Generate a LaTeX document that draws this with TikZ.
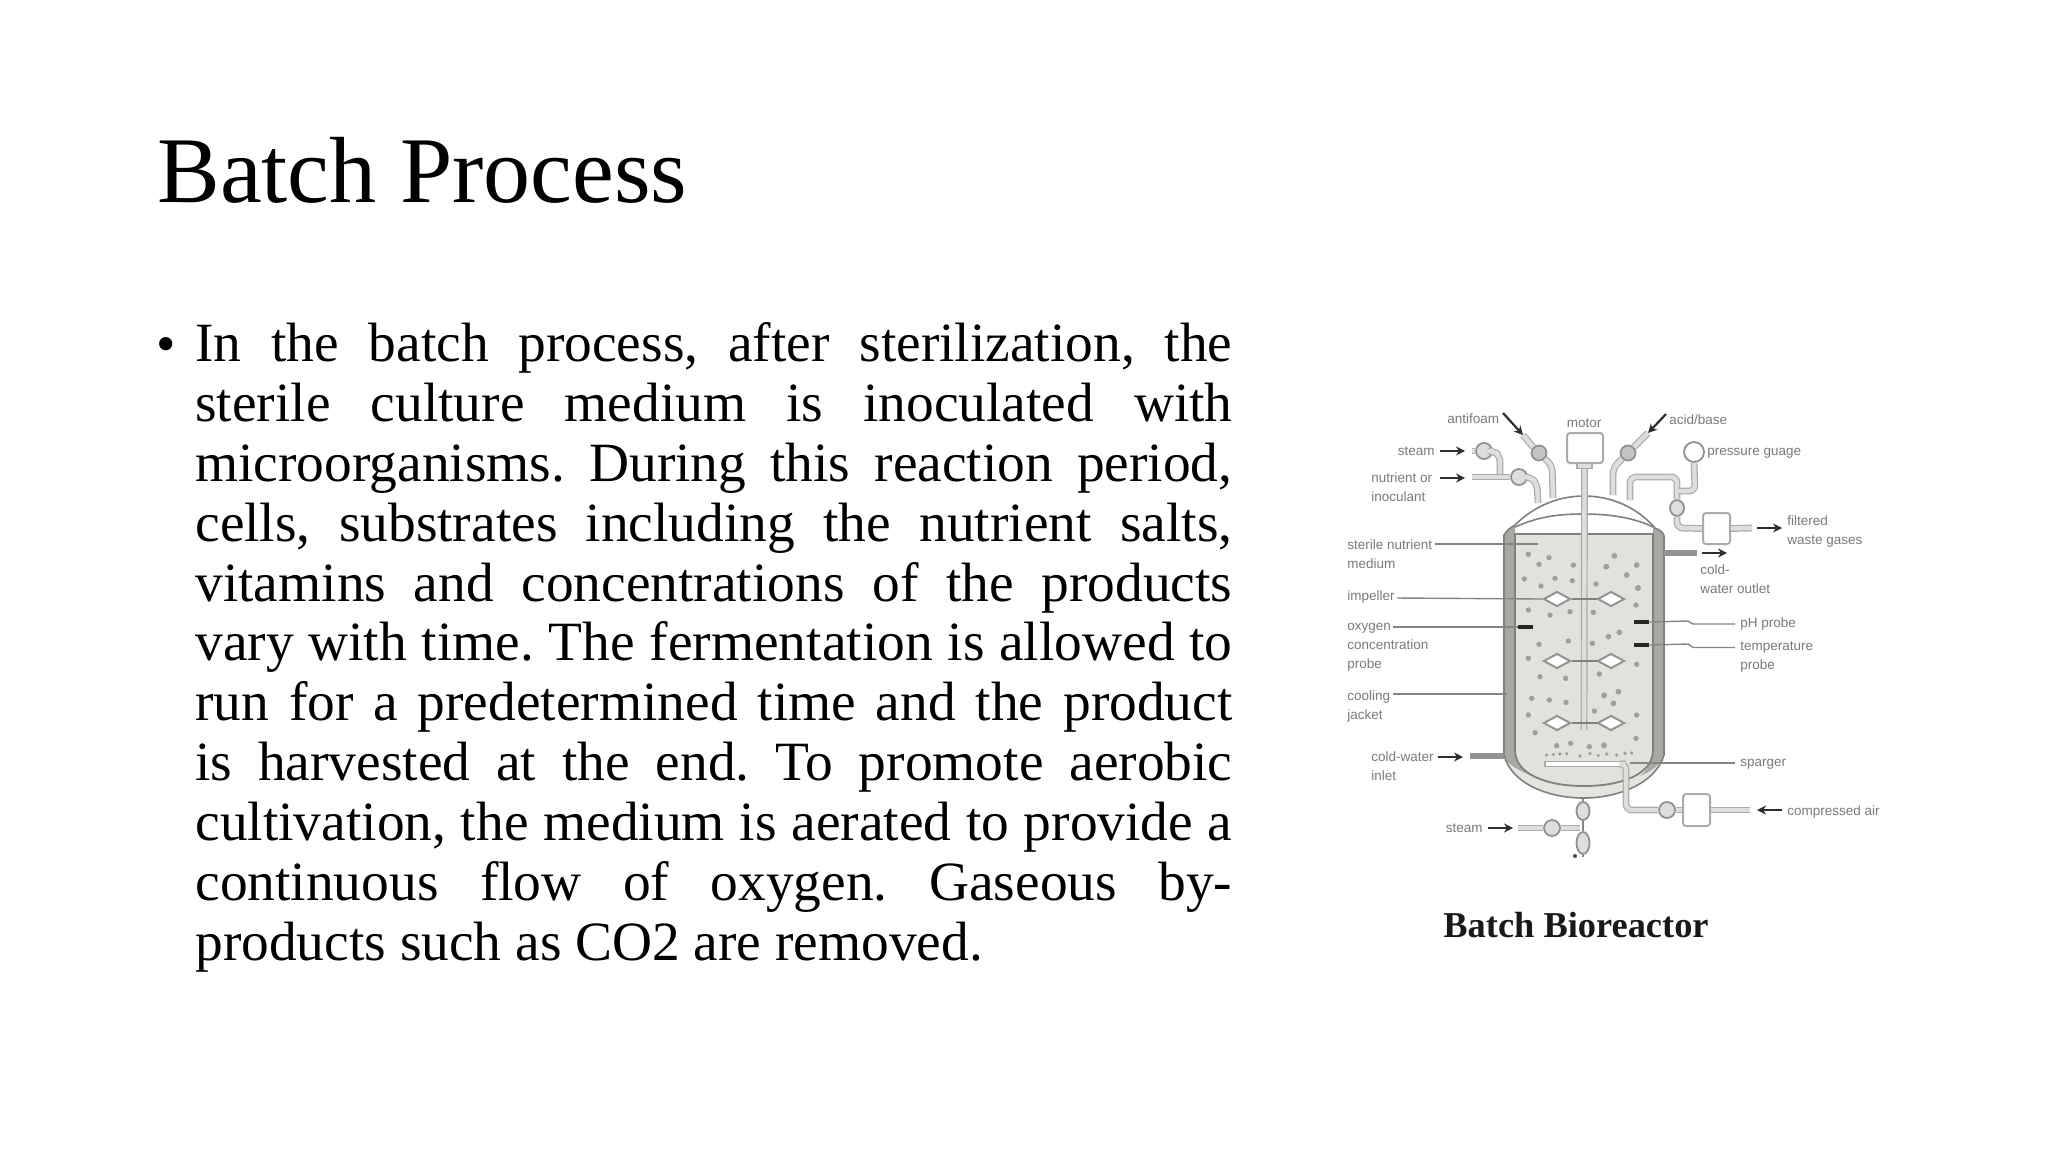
\documentclass[tikz,border=0pt]{standalone}
\usepackage{fontspec}
\setmainfont{Liberation Serif}
\newfontfamily\labelfont{Liberation Sans}
\usetikzlibrary{arrows.meta,calc,shapes.geometric}
\definecolor{pipeedge}{HTML}{ABABAB}
\definecolor{pipefill}{HTML}{DEDEDC}
\definecolor{labelgrey}{HTML}{7A7A7A}
\definecolor{leadergrey}{HTML}{858585}
\definecolor{jacketgrey}{HTML}{A8A8A3}
\definecolor{liquid}{HTML}{E2E2DC}
\definecolor{vesselline}{HTML}{808080}
\definecolor{arrowdark}{HTML}{2E2E2E}
\newcommand{\jl}[1]{\makebox[518.5pt][s]{#1}}
\frenchspacing
\tikzset{
  x=0.5pt,y=-0.5pt,
  pipe/.style={draw=pipeedge,line width=.6pt,double=pipefill,double distance=2.2pt,rounded corners=3pt},
  valve/.style={circle,draw=pipeedge!85!black,fill=pipefill,line width=.9pt,inner sep=0pt,minimum size=8pt},
  tallvalve/.style={ellipse,draw=pipeedge!85!black,fill=pipefill,line width=.9pt,inner sep=0pt,minimum width=6.5pt,minimum height=9pt},
  unitbox/.style={rectangle,rounded corners=1.5pt,draw=pipeedge,fill=white,line width=1pt,inner sep=0pt},
  tag/.style={anchor=west,inner sep=0pt,align=left,text=labelgrey,font=\labelfont\fontsize{6.75}{9.5}\selectfont},
  leader/.style={draw=leadergrey,line width=.7pt},
  flow/.style={draw=arrowdark,line width=1.1pt,-{Stealth[length=4.5pt,width=4.5pt]}},
  probe/.style={rectangle,fill=black!85,inner sep=0pt,minimum width=7.5pt,minimum height=2pt},
  thickbar/.style={draw=vesselline!85!white,line width=2.8pt},
  impel/.style={diamond,aspect=1.8,draw=vesselline!85!white,fill=white,line width=1pt,inner sep=0pt,minimum width=13.5pt,minimum height=7.5pt},
  bubble/.style={fill=gray!75},
}
\begin{document}
\begin{tikzpicture}
\useasboundingbox (0,0) rectangle (2048,1152);
\fill[white] (0,0) rectangle (2048,1152);
% slide text
\node[anchor=base west,inner sep=0pt,font=\fontsize{47}{50}\selectfont] (title) at (157,202) {Batch Process};
\node[anchor=base west,inner sep=0pt,font=\fontsize{27.7}{30}\selectfont] (bullet) at (156,362) {•};
\node[anchor=north west,inner sep=0pt,align=left,font=\fontsize{27.7}{29.95}\selectfont] (body) at (195,322) {%
\jl{In the batch process, after sterilization, the}\\
\jl{sterile culture medium is inoculated with}\\
\jl{microorganisms. During this reaction period,}\\
\jl{cells, substrates including the nutrient salts,}\\
\jl{vitamins and concentrations of the products}\\
\jl{vary with time. The fermentation is allowed to}\\
\jl{run for a predetermined time and the product}\\
\jl{is harvested at the end. To promote aerobic}\\
\jl{cultivation, the medium is aerated to provide a}\\
\jl{continuous flow of oxygen. Gaseous by-}\\
products such as CO2 are removed.};
\node[anchor=base west,inner sep=0pt,font=\bfseries\fontsize{18.2}{20}\selectfont,text=black!90] (caption) at (1443,937) {Batch Bioreactor};

% vessel
\path[fill=white] (1504,535) .. controls (1507,530) and (1510,528) .. (1515,525) .. controls (1535,505) and (1560,496) .. (1584,496) .. controls (1608,496) and (1635,505) .. (1655,528) .. controls (1660,530) and (1663,532) .. (1664,536) -- (1664,760) .. controls (1650,785) and (1615,798) .. (1584,798) .. controls (1550,798) and (1515,785) .. (1504,760) -- cycle;
\fill[liquid!90!white] (1504,760) .. controls (1515,785) and (1550,798) .. (1584,798) .. controls (1615,798) and (1650,785) .. (1664,760) -- cycle;
\fill[jacketgrey] (1504,535) .. controls (1507,530) and (1510,528) .. (1515,525) -- (1515,745) .. controls (1516,760) and (1525,772) .. (1532,776) .. controls (1518,770) and (1508,765) .. (1504,756) -- cycle;
\fill[jacketgrey] (1655,528) .. controls (1660,530) and (1663,532) .. (1664,536) -- (1664,756) .. controls (1660,765) and (1650,772) .. (1640,776) .. controls (1648,770) and (1653,760) .. (1653,745) -- (1653,528) -- cycle;
\draw[vesselline,fill=liquid,line width=.9pt] (1515,534) -- (1653,534) -- (1653,750) .. controls (1653,775) and (1620,786) .. (1584,786) .. controls (1548,786) and (1515,775) .. (1515,750) -- cycle;
\draw[vesselline,line width=.8pt] (1504,535) .. controls (1507,530) and (1510,528) .. (1515,525) .. controls (1535,505) and (1560,496) .. (1584,496) .. controls (1608,496) and (1635,505) .. (1655,528) .. controls (1660,530) and (1663,532) .. (1664,536) -- (1664,755) .. controls (1655,785) and (1615,798) .. (1584,798) .. controls (1550,798) and (1512,785) .. (1504,755) -- cycle;
\draw[vesselline,line width=.8pt] (1515,527) .. controls (1540,516) and (1560,514) .. (1584,514) .. controls (1610,514) and (1635,518) .. (1653,527);

% bubbles
\foreach \a/\b in {565/493,597/523,627/503,700/525,823/498,798/530,890/525,553/567,603/588,645/565,697/572,768/582,860/555,893/595,888/645,565/660,630/675,690/665,760/667}
  \fill[bubble] ({1340+\a/3},{390+\b/3}) circle (2.7);
\foreach \a/\b in {805/110,838/97,597/133,685/123,757/130,565/175,890/193,600/230,677/235,778/222,575/295,628/300,678/307,793/285,835/275,820/310,763/333,565/345,890/345,585/398,888/415,650/437,692/430,748/440,792/435}
  \fill[bubble] ({1340+\a/3},{600+\b/3}) circle (2.7);
\foreach \a/\b in {43/497,20/530,80/555,110/525,115/593}
  \fill[bubble] ({1600+\a/3},{390+\b/3}) circle (2.7);
\foreach \a/\b in {25/110,58/97,12/287,55/275,40/310,12/437}
  \fill[bubble] ({1600+\a/3},{600+\b/3}) circle (2.7);
\foreach \a in {620,640,660,680,720,750,775,800,830,855,875}
  \fill[bubble] ({1340+\a/3},{753+mod(\a,7)/2}) circle (1.8);

% motor and shaft
\node[unitbox,minimum width=18pt,minimum height=15pt] (motor) at (1585,448) {};
\node[rectangle,draw=pipeedge,fill=pipefill,inner sep=0pt,minimum width=7.5pt,minimum height=2.5pt,line width=.6pt] (coupling) at (1584.5,466) {};
\coordinate (shaftend) at (1584,730);
\draw[pipe,rounded corners=0pt] (coupling.south) -- (shaftend);

% impellers
\foreach \n/\y in {top/599,mid/661,low/723}{
  \node[impel] (\n L) at (1557,\y) {};
  \node[impel] (\n R) at (1611,\y) {};
  \draw[draw=vesselline,line width=1.4pt] (\n L.east) -- (\n R.west);
}

% sparger
\node[rectangle,draw=pipeedge,fill=white,inner sep=0pt,minimum width=40pt,minimum height=2.5pt,line width=.7pt] (sparger) at (1585,764) {};

% valves and units, top
\node[valve] (vsteam) at (1484,451) {};
\node[valve] (vnutrient) at (1519,477) {};
\node[valve,minimum size=7.5pt,fill=pipeedge!70!white] (vantifoam) at (1539,453) {};
\node[valve,minimum size=7.5pt,fill=pipeedge!70!white] (vacid) at (1628,453) {};
\node[valve,minimum size=10pt,fill=white] (gauge) at (1694,452) {};
\node[tallvalve,minimum width=7pt,minimum height=8pt] (vwaste) at (1677,508) {};
\node[unitbox,minimum width=13.5pt,minimum height=15.5pt] (filterout) at (1716.5,528.5) {};
% valves and units, bottom
\node[valve] (vair) at (1667,810) {};
\node[unitbox,minimum width=13.5pt,minimum height=16pt] (filterin) at (1696.5,810) {};
\node[tallvalve] (vdrain) at (1583,811) {};
\node[valve] (vbase) at (1552,828) {};
\node[tallvalve,minimum height=11pt] (vout) at (1583,843) {};

% labels
\node[tag] (lantifoam) at (1447,419) {antifoam};
\node[tag,anchor=center] (lmotor) at (1584,423) {motor};
\node[tag] (lacid) at (1669,420) {acid/base};
\node[tag] (lgauge) at (1707,453) {pressure guage};
\node[tag,anchor=east] (lsteam) at (1435,451) {steam};
\node[tag] (lnutrient) at (1371,487) {nutrient or\\inoculant};
\node[tag] (lfiltered) at (1787,531) {filtered\\waste gases};
\node[tag] (lsterile) at (1347,554) {sterile nutrient\\medium};
\node[tag] (loutlet) at (1700,579) {cold-\\water outlet};
\node[tag] (limpeller) at (1347,597) {impeller};
\node[tag] (lph) at (1740,624) {pH probe};
\node[tag] (ltemp) at (1740,657) {temperature\\probe};
\node[tag] (loxygen) at (1347,647) {oxygen\\concentration\\probe};
\node[tag] (lcooling) at (1347,706) {cooling\\jacket};
\node[tag] (linlet) at (1371,766) {cold-water\\inlet};
\node[tag] (lsparger) at (1740,764) {sparger};
\node[tag] (lair) at (1787,812) {compressed air};
\node[tag,anchor=east] (lbase) at (1483,828) {steam};

% probes
\node[probe] (poxygen) at (1525.5,627) {};
\node[probe] (pph) at (1641.5,622) {};
\node[probe] (ptemp) at (1641.5,645) {};

% free ends
\coordinate (domeA) at (1538,503); \coordinate (domeB) at (1553,498);
\coordinate (domeC) at (1613,495); \coordinate (domeD) at (1630,500);
\coordinate (steamJoin) at (1500,477);

% pipes, top
\draw[pipe] (vsteam.east) -- (1494,451) -- (1500,456) -- (steamJoin);
\coordinate (nutStart) at (1472,477);
\draw[pipe] (nutStart) -- (vnutrient.west);
\coordinate (stStart) at (1472,451);
\draw[pipe] (stStart) -- (vsteam.west);
\draw[pipe] (vnutrient.east) -- (1531,477) -- (1537,484) -- (domeA);
\coordinate (afStart) at (1523,435);
\draw[pipe] (afStart) -- (vantifoam.north west);
\draw[pipe] (vantifoam.south east) -- (1552,465) -- (domeB);
\coordinate (abStart) at (1648,433);
\draw[pipe] (abStart) -- (vacid.north east);
\draw[pipe] (vacid.south west) -- (1613,468) -- (domeC);
\draw[pipe] (domeD) -- (1630,477) -- (1677,477) -- (vwaste.north);
\draw[pipe] (gauge.south) -- (1695,491) -- (1678,491);
\draw[pipe] (vwaste.south) -- (1677,528) -- (filterout.west);
\coordinate (wasteEnd) at (1752,528);
\draw[pipe,rounded corners=0pt] (filterout.east) -- (wasteEnd);
% pipes, bottom
\draw[pipe] (sparger.east) -- (1626,764) -- (1626,810) -- (vair.west);
\draw[pipe] (vair.east) -- (filterin.west);
\coordinate (airStart) at (1750,810);
\draw[pipe,rounded corners=0pt] (filterin.east) -- (airStart);
\coordinate (vesselBottom) at (1583,798);
\draw[leader] (vesselBottom) -- (vdrain.north);
\draw[leader] (vdrain.south) -- (vout.north);
\coordinate (baseStart) at (1518,828); \coordinate (baseJoin) at (1580,828);
\draw[pipe,rounded corners=0pt] (baseStart) -- (vbase.west);
\draw[pipe,rounded corners=0pt] (vbase.east) -- (baseJoin);
\coordinate (outEnd) at (1583,857);
\draw[leader] (vout.south) -- (outEnd);
\coordinate (dripdot) at (1575,856);
\fill[black!70] (dripdot) circle (2);

% leaders
\coordinate (sterileEnd) at (1538,544);
\draw[leader] (1435,544) -- (sterileEnd);
\draw[leader] (1397,598) -- (topL.west);
\draw[leader] (1393,627) -- (poxygen.west);
\coordinate (jacketEnd) at (1507,694);
\draw[leader] (1393,694) -- (jacketEnd);
\draw[leader] (pph.east) -- (1688,621) -- (1693,624) -- (1735,624);
\draw[leader] (ptemp.east) -- (1688,644) -- (1693,647.5) -- (1735,647.5);
\draw[leader] (1630,763) -- (1735,763);

% flow arrows
\draw[flow] (1503,413) -- (afStart);
\draw[flow] (1666,414) -- (abStart);
\draw[flow] (1440,451) -- (1465,451);
\draw[flow] (1440,478) -- (1465,478);
\draw[flow] (1757,528) -- (1782,528);
\draw[flow] (1702,553) -- (1727,553);
\draw[flow] (1438,757) -- (1463,757);
\draw[flow] (1782,810) -- (1757,810);
\draw[flow] (1488,828) -- (1513,828);
% jacket water bars
\draw[thickbar] (1470,756) -- (1504,756);
\draw[thickbar] (1664,553) -- (1697,553);
\end{tikzpicture}
\end{document}
